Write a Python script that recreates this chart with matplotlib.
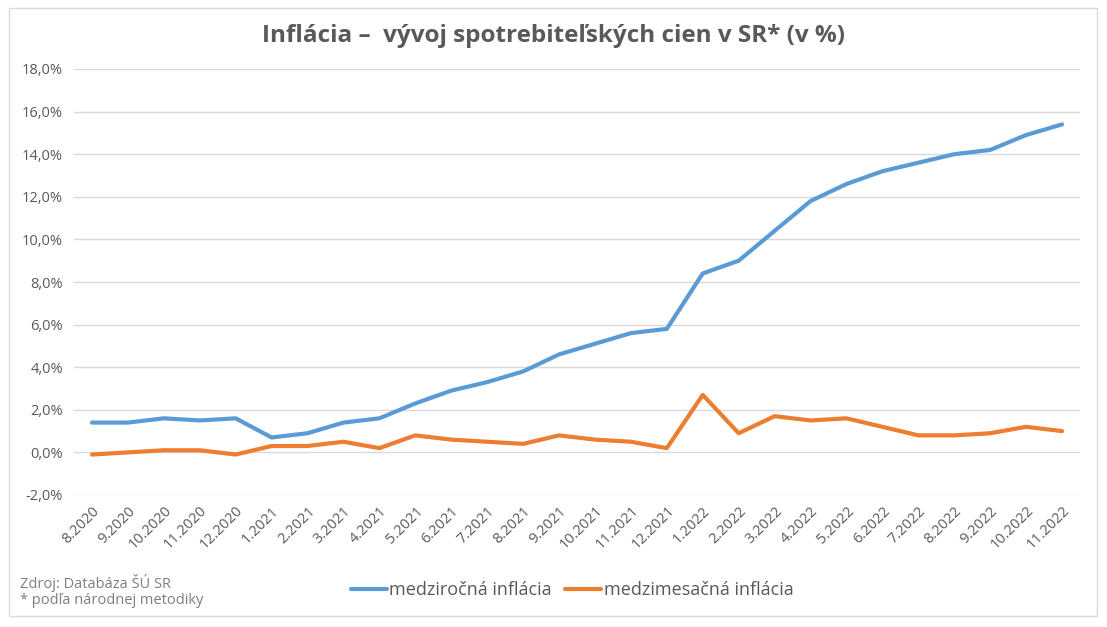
import numpy as np
import matplotlib.pyplot as plt
from matplotlib.patches import Rectangle
from matplotlib.ticker import FuncFormatter

plt.rcParams['font.family'] = ['Open Sans', 'DejaVu Sans']

mesiace = ['8.2020', '9.2020', '10.2020', '11.2020', '12.2020',
           '1.2021', '2.2021', '3.2021', '4.2021', '5.2021', '6.2021', '7.2021',
           '8.2021', '9.2021', '10.2021', '11.2021', '12.2021',
           '1.2022', '2.2022', '3.2022', '4.2022', '5.2022', '6.2022', '7.2022',
           '8.2022', '9.2022', '10.2022', '11.2022']
medzirocna = [1.4, 1.4, 1.6, 1.5, 1.6, 0.7, 0.9, 1.4, 1.6, 2.3, 2.9, 3.3, 3.8, 4.6,
              5.1, 5.6, 5.8, 8.4, 9.0, 10.4, 11.8, 12.6, 13.2, 13.6, 14.0, 14.2, 14.9, 15.4]
medzimesacna = [-0.1, 0.0, 0.1, 0.1, -0.1, 0.3, 0.3, 0.5, 0.2, 0.8, 0.6, 0.5, 0.4, 0.8,
                0.6, 0.5, 0.2, 2.7, 0.9, 1.7, 1.5, 1.6, 1.2, 0.8, 0.8, 0.9, 1.2, 1.0]

fig = plt.figure(figsize=(11.07, 6.27), dpi=100)
ax = fig.add_axes([74/1107, 1-495/627, (1080-74)/1107, (495-69)/627])

x = np.arange(len(mesiace))
ax.plot(x, medzirocna, color='#5b9bd5', lw=3, label='medziročná inflácia', solid_capstyle='round')
ax.plot(x, medzimesacna, color='#ed7d31', lw=3, label='medzimesačná inflácia', solid_capstyle='round')

ax.set_xlim(-0.5, len(mesiace) - 0.5)
ax.set_ylim(-2, 18)
ax.set_yticks(np.arange(-2, 19, 2))
ax.yaxis.set_major_formatter(FuncFormatter(lambda v, p: f'{v:.1f}%'.replace('.', ',')))
ax.set_xticks(x)
ax.set_xticklabels(mesiace, rotation=45, ha='right', rotation_mode='anchor')
ax.grid(axis='y', color='#d9d9d9', lw=1)
ax.set_axisbelow(True)
for s in ax.spines.values():
    s.set_visible(False)
ax.tick_params(length=0, labelsize=10.5, colors='#595959', pad=8)
ax.tick_params(axis='x', pad=6)

fig.text(0.5, 1-36/627, 'Inflácia –  vývoj spotrebiteľských cien v SR* (v %)',
         ha='center', va='center', fontsize=17.5, fontweight='bold', color='#595959')
fig.text(20/1107, 1-591/627, 'Zdroj: Databáza ŠÚ SR\n* podľa národnej metodiky',
         ha='left', va='center', fontsize=10.5, color='#7f7f7f', linespacing=1.1)

fig.legend(loc='center', bbox_to_anchor=(572/1107, 1-590/627), ncol=2, frameon=False,
           fontsize=13, labelcolor='#595959', handlelength=2.0, handletextpad=0.15,
           columnspacing=0.7)

fig.patches.append(Rectangle((9/1107, 1-616/627), 1088/1107, 608/627, transform=fig.transFigure,
                             fill=False, edgecolor='#d9d9d9', lw=1))

fig.savefig('out.png', dpi=100)
